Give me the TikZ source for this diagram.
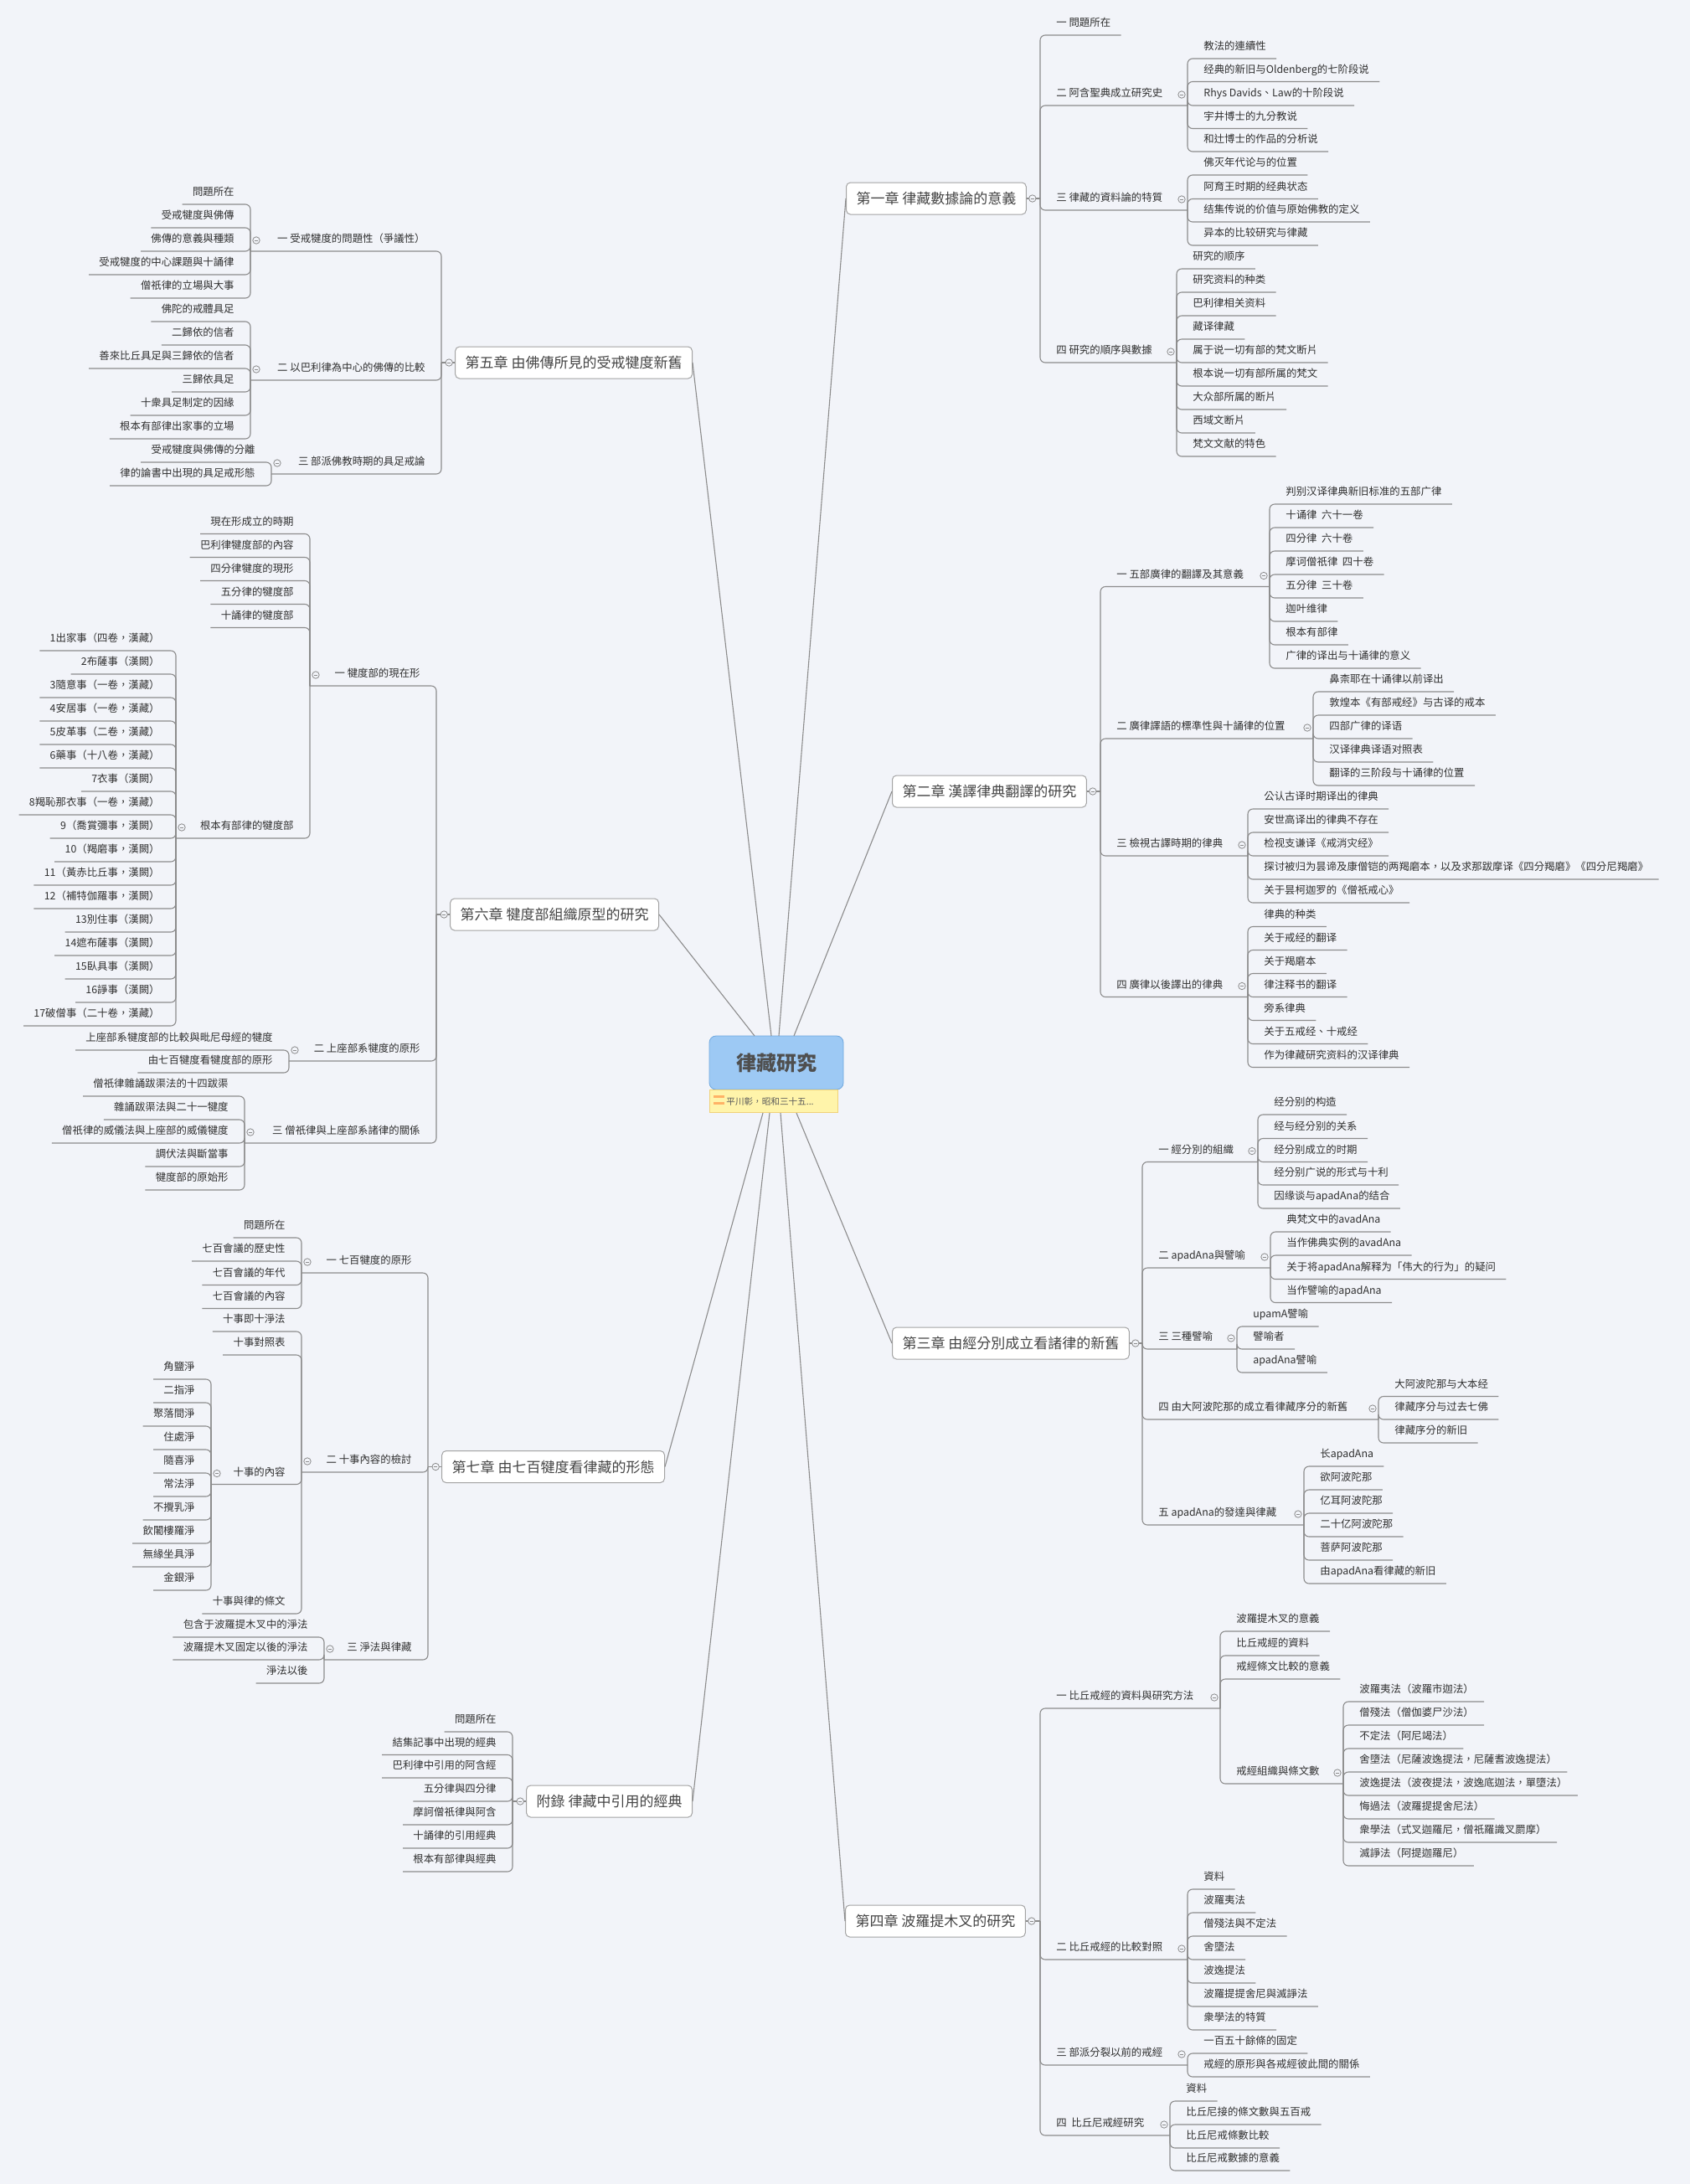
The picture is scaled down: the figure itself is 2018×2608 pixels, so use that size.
\documentclass[tikz,border=0pt]{standalone}
\usepackage{fontspec}
\setmainfont{Noto Sans CJK TC}
\usetikzlibrary{calc}
\definecolor{bg}{HTML}{F2F4F9}
\definecolor{ln}{HTML}{8C8C8C}
\definecolor{tx}{HTML}{303030}
\definecolor{rootfill}{HTML}{9DC9F4}
\definecolor{rootdraw}{HTML}{6EA7DE}
\definecolor{notefill}{HTML}{FFF4AA}
\definecolor{notedraw}{HTML}{F0D27A}
\tikzset{
  conn/.style={draw=ln,line width=0.55pt,rounded corners=3pt},
  leaf/.style={inner xsep=6pt,inner ysep=3pt,text height=0.8em,text depth=0.2em,font=\fontsize{6.2}{7}\selectfont,text=tx},
  chap/.style={draw=ln!80,fill=white,rounded corners=2.5pt,line width=0.5pt,minimum height=19pt,inner xsep=6pt,font=\fontsize{8.5}{10}\selectfont,text=tx!90},
  coll/.style={circle,draw=ln,fill=bg,minimum size=4.2pt,inner sep=0pt,line width=0.4pt,
    path picture={\draw[ln,line width=0.4pt]([xshift=1pt]path picture bounding box.west)--([xshift=-1pt]path picture bounding box.east);}}
}
\newcommand\rleaf[4]{\node[leaf,anchor=south west,xshift=3.5pt] (#1) at (#2 |- 0,#3) {#4};\draw[conn] (#2) |- (#1.south east);}
\newcommand\lleaf[4]{\node[leaf,anchor=south east,xshift=-3.5pt] (#1) at (#2 |- 0,#3) {#4};\draw[conn] (#2) |- (#1.south west);}
\newcommand\rbranch[5]{\node[leaf,anchor=south west,xshift=3.5pt] (#1) at (#2 |- 0,#3) {#5};\coordinate (#1j) at (#4,#3);\draw[conn] (#2) |- (#1j);\node[coll] at ($(#1j)+(-7,-13)$) {};}
\newcommand\lbranch[5]{\node[leaf,anchor=south east,xshift=-3.5pt] (#1) at (#2 |- 0,#3) {#5};\coordinate (#1j) at (#4,#3);\draw[conn] (#2) |- (#1j);\node[coll] at ($(#1j)+(7,-13)$) {};}
\begin{document}
\begin{tikzpicture}[x=0.5pt,y=-0.5pt]
\fill[bg] (0,0) rectangle (2018,2608);
\useasboundingbox (0,0) rectangle (2018,2608);

% root
\node[draw=rootdraw,fill=rootfill,rounded corners=4pt,minimum width=80pt,minimum height=32pt,font=\fontsize{12}{14}\selectfont\bfseries,text=tx!85] (root) at (927,1269) {律藏研究};
\node[draw=notedraw,fill=notefill,anchor=north west,minimum width=76.5pt,minimum height=13.5pt,inner sep=0pt] (note) at (847,1301) {};
\node[anchor=west,font=\fontsize{5.3}{6}\selectfont,text=tx!80,inner sep=0pt] (notetx) at (867,1315) {平川彰，昭和三十五...};
\fill[orange!60] (852,1308) rectangle (865,1311);
\fill[orange!60] (852,1316) rectangle (865,1319);

\coordinate (r6) at (901,1237);\coordinate (r5) at (921,1237);\coordinate (r1) at (930,1237);\coordinate (r2) at (948,1237);
\coordinate (r7) at (911,1329);\coordinate (ra) at (919,1329);\coordinate (r4) at (932,1329);\coordinate (r3) at (951,1329);

% chapter 1
\node[chap,anchor=west] (ch1) at (1010,237) {第一章 律藏數據論的意義};
\coordinate (ch1j) at (1242,237);
\draw[conn] (r1) -- (ch1.west);
\draw[conn] (ch1.east) -- (ch1j);\node[coll] at ($(ch1.east)+(7,0)$) {};
\rleaf{c1a}{ch1j}{42}{一 問題所在}
\rbranch{c1b}{ch1j}{126}{1418}{二 阿含聖典成立研究史}
\rleaf{c1b1}{c1bj}{70}{教法的連續性}
\rleaf{c1b2}{c1bj}{97.5}{经典的新旧与Oldenberg的七阶段说}
\rleaf{c1b3}{c1bj}{126}{Rhys Davids、Law的十阶段说}
\rleaf{c1b4}{c1bj}{153.5}{宇井博士的九分教说}
\rleaf{c1b5}{c1bj}{181}{和辻博士的作品的分析说}
\rbranch{c1c}{ch1j}{251}{1418}{三 律藏的資料論的特質}
\rleaf{c1c1}{c1cj}{209}{佛灭年代论与的位置}
\rleaf{c1c2}{c1cj}{237.5}{阿育王时期的经典状态}
\rleaf{c1c3}{c1cj}{265}{结集传说的价值与原始佛教的定义}
\rleaf{c1c4}{c1cj}{293}{异本的比较研究与律藏}
\rbranch{c1d}{ch1j}{433}{1405}{四 研究的順序與數據}
\rleaf{c1d1}{c1dj}{321}{研究的顺序}
\rleaf{c1d2}{c1dj}{349}{研究资料的种类}
\rleaf{c1d3}{c1dj}{377}{巴利律相关资料}
\rleaf{c1d4}{c1dj}{405}{藏译律藏}
\rleaf{c1d5}{c1dj}{433}{属于说一切有部的梵文断片}
\rleaf{c1d6}{c1dj}{461}{根本说一切有部所属的梵文}
\rleaf{c1d7}{c1dj}{489}{大众部所属的断片}
\rleaf{c1d8}{c1dj}{517}{西域文断片}
\rleaf{c1d9}{c1dj}{545}{梵文文献的特色}

% chapter 2
\node[chap,anchor=west] (ch2) at (1065,945) {第二章 漢譯律典翻譯的研究};
\coordinate (ch2j) at (1314,945);
\draw[conn] (r2) -- (ch2.west);
\draw[conn] (ch2.east) -- (ch2j);\node[coll] at ($(ch2.east)+(7,0)$) {};
\rbranch{c2a}{ch2j}{700.5}{1516}{一 五部廣律的翻譯及其意義}
\rleaf{c2a1}{c2aj}{602}{判别汉译律典新旧标准的五部广律}
\rleaf{c2a2}{c2aj}{630}{十诵律\ \ 六十一卷}
\rleaf{c2a3}{c2aj}{658}{四分律\ \ 六十卷}
\rleaf{c2a4}{c2aj}{686}{摩诃僧祇律\ \ 四十卷}
\rleaf{c2a5}{c2aj}{714}{五分律\ \ 三十卷}
\rleaf{c2a6}{c2aj}{742}{迦叶维律}
\rleaf{c2a7}{c2aj}{770}{根本有部律}
\rleaf{c2a8}{c2aj}{798}{广律的译出与十诵律的意义}
\rbranch{c2b}{ch2j}{882}{1568}{二 廣律譯語的標準性與十誦律的位置}
\rleaf{c2b1}{c2bj}{826}{鼻柰耶在十诵律以前译出}
\rleaf{c2b2}{c2bj}{854}{敦煌本《有部戒经》与古译的戒本}
\rleaf{c2b3}{c2bj}{882}{四部广律的译语}
\rleaf{c2b4}{c2bj}{910}{汉译律典译语对照表}
\rleaf{c2b5}{c2bj}{938}{翻译的三阶段与十诵律的位置}
\rbranch{c2c}{ch2j}{1022}{1490}{三 檢視古譯時期的律典}
\rleaf{c2c1}{c2cj}{966}{公认古译时期译出的律典}
\rleaf{c2c2}{c2cj}{994}{安世高译出的律典不存在}
\rleaf{c2c3}{c2cj}{1022}{检视支谦译《戒消灾经》}
\rleaf{c2c4}{c2cj}{1050}{探讨被归为昙谛及康僧铠的两羯磨本，以及求那跋摩译《四分羯磨》《四分尼羯磨》}
\rleaf{c2c5}{c2cj}{1078}{关于昙柯迦罗的《僧祇戒心》}
\rbranch{c2d}{ch2j}{1190.5}{1490}{四 廣律以後譯出的律典}
\rleaf{c2d1}{c2dj}{1106.5}{律典的种类}
\rleaf{c2d2}{c2dj}{1134.5}{关于戒经的翻译}
\rleaf{c2d3}{c2dj}{1162.5}{关于羯磨本}
\rleaf{c2d4}{c2dj}{1190.5}{律注释书的翻译}
\rleaf{c2d5}{c2dj}{1218.5}{旁系律典}
\rleaf{c2d6}{c2dj}{1246.5}{关于五戒经、十戒经}
\rleaf{c2d7}{c2dj}{1274.5}{作为律藏研究资料的汉译律典}

% chapter 3
\node[chap,anchor=west] (ch3) at (1065,1604) {第三章 由經分別成立看諸律的新舊};
\coordinate (ch3j) at (1364,1604);
\draw[conn] (r3) -- (ch3.west);
\draw[conn] (ch3.east) -- (ch3j);\node[coll] at ($(ch3.east)+(7,0)$) {};
\rbranch{c3a}{ch3j}{1387.5}{1502}{一 經分別的組織}
\rleaf{c3a1}{c3aj}{1331}{经分别的构造}
\rleaf{c3a2}{c3aj}{1359.5}{经与经分别的关系}
\rleaf{c3a3}{c3aj}{1387.5}{经分别成立的时期}
\rleaf{c3a4}{c3aj}{1415}{经分别广说的形式与十利}
\rleaf{c3a5}{c3aj}{1443}{因缘谈与apadAna的结合}
\rbranch{c3b}{ch3j}{1514}{1517}{二 apadAna與譬喻}
\rleaf{c3b1}{c3bj}{1471}{典梵文中的avadAna}
\rleaf{c3b2}{c3bj}{1499}{当作佛典实例的avadAna}
\rleaf{c3b3}{c3bj}{1527.5}{关于将apadAna解释为「伟大的行为」的疑问}
\rleaf{c3b4}{c3bj}{1555.5}{当作譬喻的apadAna}
\rbranch{c3c}{ch3j}{1611}{1477}{三 三種譬喻}
\rleaf{c3c1}{c3cj}{1584}{upamA譬喻}
\rleaf{c3c2}{c3cj}{1611}{譬喻者}
\rleaf{c3c3}{c3cj}{1639}{apadAna譬喻}
\rbranch{c3d}{ch3j}{1695}{1646}{四 由大阿波陀那的成立看律藏序分的新舊}
\rleaf{c3d1}{c3dj}{1667.5}{大阿波陀那与大本经}
\rleaf{c3d2}{c3dj}{1695}{律藏序分与过去七佛}
\rleaf{c3d3}{c3dj}{1723}{律藏序分的新旧}
\rbranch{c3e}{ch3j}{1821}{1557}{五 apadAna的發達與律藏}
\rleaf{c3e1}{c3ej}{1751}{长apadAna}
\rleaf{c3e2}{c3ej}{1779}{欲阿波陀那}
\rleaf{c3e3}{c3ej}{1807}{亿耳阿波陀那}
\rleaf{c3e4}{c3ej}{1835}{二十亿阿波陀那}
\rleaf{c3e5}{c3ej}{1863}{菩萨阿波陀那}
\rleaf{c3e6}{c3ej}{1891}{由apadAna看律藏的新旧}

% chapter 4
\node[chap,anchor=west] (ch4) at (1009,2294) {第四章 波羅提木叉的研究};
\coordinate (ch4j) at (1242,2294);
\draw[conn] (r4) -- (ch4.west);
\draw[conn] (ch4.east) -- (ch4j);\node[coll] at ($(ch4.east)+(7,0)$) {};
\rbranch{c4a}{ch4j}{2040}{1457}{一 比丘戒經的資料與研究方法}
\rleaf{c4a1}{c4aj}{1948}{波羅提木叉的意義}
\rleaf{c4a2}{c4aj}{1977}{比丘戒經的資料}
\rleaf{c4a3}{c4aj}{2005}{戒經條文比較的意義}
\rbranch{c4a4}{c4aj}{2130}{1604}{戒經組織與條文數}
\rleaf{c4a41}{c4a4j}{2032}{波羅夷法（波羅市迦法）}
\rleaf{c4a42}{c4a4j}{2060}{僧殘法（僧伽婆尸沙法）}
\rleaf{c4a43}{c4a4j}{2088}{不定法（阿尼竭法）}
\rleaf{c4a44}{c4a4j}{2116}{舍墮法（尼薩波逸提法，尼薩耆波逸提法）}
\rleaf{c4a45}{c4a4j}{2144}{波逸提法（波夜提法，波逸底迦法，單墮法）}
\rleaf{c4a46}{c4a4j}{2172}{悔過法（波羅提提舍尼法）}
\rleaf{c4a47}{c4a4j}{2200}{衆學法（式叉迦羅尼，僧祇羅識叉罽摩）}
\rleaf{c4a48}{c4a4j}{2228}{滅諍法（阿提迦羅尼）}
\rbranch{c4b}{ch4j}{2340}{1418}{二 比丘戒經的比較對照}
\rleaf{c4b1}{c4bj}{2256}{資料}
\rleaf{c4b2}{c4bj}{2284}{波羅夷法}
\rleaf{c4b3}{c4bj}{2312}{僧殘法與不定法}
\rleaf{c4b4}{c4bj}{2340}{舍墮法}
\rleaf{c4b5}{c4bj}{2368}{波逸提法}
\rleaf{c4b6}{c4bj}{2396}{波羅提提舍尼與滅諍法}
\rleaf{c4b7}{c4bj}{2424}{衆學法的特質}
\rbranch{c4c}{ch4j}{2466}{1418}{三 部派分裂以前的戒經}
\rleaf{c4c1}{c4cj}{2452}{一百五十餘條的固定}
\rleaf{c4c2}{c4cj}{2480}{戒經的原形與各戒經彼此間的關係}
\rbranch{c4d}{ch4j}{2550}{1397}{四\ \ 比丘尼戒經研究}
\rleaf{c4d1}{c4dj}{2509}{資料}
\rleaf{c4d2}{c4dj}{2537}{比丘尼接的條文數與五百戒}
\rleaf{c4d3}{c4dj}{2565}{比丘尼戒條數比較}
\rleaf{c4d4}{c4dj}{2592}{比丘尼戒數據的意義}

% chapter 5
\node[chap,anchor=east] (ch5) at (827,433) {第五章 由佛傳所見的受戒犍度新舊};
\coordinate (ch5j) at (527,433);
\draw[conn] (r5) -- (ch5.east);
\draw[conn] (ch5.west) -- (ch5j);\node[coll] at ($(ch5.west)+(-7,0)$) {};
\lbranch{c5a}{ch5j}{300}{299}{一 受戒犍度的問題性（爭議性）}
\lleaf{c5a1}{c5aj}{244}{問題所在}
\lleaf{c5a2}{c5aj}{272}{受戒犍度與佛傳}
\lleaf{c5a3}{c5aj}{300}{佛傳的意義與種類}
\lleaf{c5a4}{c5aj}{328}{受戒犍度的中心課題與十誦律}
\lleaf{c5a5}{c5aj}{356}{僧祇律的立場與大事}
\lbranch{c5b}{ch5j}{454}{299}{二 以巴利律為中心的佛傳的比較}
\lleaf{c5b1}{c5bj}{384}{佛陀的戒體具足}
\lleaf{c5b2}{c5bj}{412}{二歸依的信者}
\lleaf{c5b3}{c5bj}{440}{善來比丘具足與三歸依的信者}
\lleaf{c5b4}{c5bj}{468}{三歸依具足}
\lleaf{c5b5}{c5bj}{496}{十衆具足制定的因緣}
\lleaf{c5b6}{c5bj}{524}{根本有部律出家事的立場}
\lbranch{c5c}{ch5j}{566}{324}{三 部派佛教時期的具足戒論}
\lleaf{c5c1}{c5cj}{552}{受戒犍度與佛傳的分離}
\lleaf{c5c2}{c5cj}{580}{律的論書中出現的具足戒形態}

% chapter 6
\node[chap,anchor=east] (ch6) at (787,1092) {第六章 犍度部組織原型的研究};
\coordinate (ch6j) at (521,1092);
\draw[conn] (r6) -- (ch6.east);
\draw[conn] (ch6.west) -- (ch6j);\node[coll] at ($(ch6.west)+(-7,0)$) {};
\lbranch{c6a}{ch6j}{819}{370}{一 犍度部的現在形}
\lleaf{c6a1}{c6aj}{637.5}{現在形成立的時期}
\lleaf{c6a2}{c6aj}{665.5}{巴利律犍度部的內容}
\lleaf{c6a3}{c6aj}{693.5}{四分律犍度的現形}
\lleaf{c6a4}{c6aj}{721.5}{五分律的犍度部}
\lleaf{c6a5}{c6aj}{749.5}{十誦律的犍度部}
\lbranch{c6b}{c6aj}{1001}{210}{根本有部律的犍度部}
\lleaf{c6b1}{c6bj}{777}{1出家事（四卷，漢藏）}
\lleaf{c6b2}{c6bj}{805}{2布薩事（漢闕）}
\lleaf{c6b3}{c6bj}{833}{3隨意事（一卷，漢藏）}
\lleaf{c6b4}{c6bj}{861}{4安居事（一卷，漢藏）}
\lleaf{c6b5}{c6bj}{889}{5皮革事（二卷，漢藏）}
\lleaf{c6b6}{c6bj}{917}{6藥事（十八卷，漢藏）}
\lleaf{c6b7}{c6bj}{945}{7衣事（漢闕）}
\lleaf{c6b8}{c6bj}{973}{8羯恥那衣事（一卷，漢藏）}
\lleaf{c6b9}{c6bj}{1001}{9（喬賞彌事，漢闕）}
\lleaf{c6b10}{c6bj}{1029}{10（羯磨事，漢闕）}
\lleaf{c6b11}{c6bj}{1057}{11（黃赤比丘事，漢闕）}
\lleaf{c6b12}{c6bj}{1085}{12（補特伽羅事，漢闕）}
\lleaf{c6b13}{c6bj}{1113}{13別住事（漢闕）}
\lleaf{c6b14}{c6bj}{1141}{14遮布薩事（漢闕）}
\lleaf{c6b15}{c6bj}{1169}{15臥具事（漢闕）}
\lleaf{c6b16}{c6bj}{1197}{16諍事（漢闕）}
\lleaf{c6b17}{c6bj}{1225}{17破僧事（二十卷，漢藏）}
\lbranch{c6c}{ch6j}{1267}{345}{二 上座部系犍度的原形}
\lleaf{c6c1}{c6cj}{1254}{上座部系犍度部的比較與毗尼母經的犍度}
\lleaf{c6c2}{c6cj}{1281}{由七百犍度看犍度部的原形}
\lbranch{c6d}{ch6j}{1365}{292}{三 僧祇律與上座部系諸律的關係}
\lleaf{c6d1}{c6dj}{1309}{僧祇律雜誦跋渠法的十四跋渠}
\lleaf{c6d2}{c6dj}{1337}{雜誦跋渠法與二十一犍度}
\lleaf{c6d3}{c6dj}{1365}{僧祇律的威儀法與上座部的威儀犍度}
\lleaf{c6d4}{c6dj}{1393}{調伏法與斷當事}
\lleaf{c6d5}{c6dj}{1421}{犍度部的原始形}

% chapter 7
\node[chap,anchor=east] (ch7) at (794,1751.5) {第七章 由七百犍度看律藏的形態};
\coordinate (ch7j) at (511,1751.5);
\draw[conn] (r7) -- (ch7.east);
\draw[conn] (ch7.west) -- (ch7j);\node[coll] at ($(ch7.west)+(-7,0)$) {};
\lbranch{c7a}{ch7j}{1520}{360}{一 七百犍度的原形}
\lleaf{c7a1}{c7aj}{1478}{問題所在}
\lleaf{c7a2}{c7aj}{1506}{七百會議的歷史性}
\lleaf{c7a3}{c7aj}{1534.5}{七百會議的年代}
\lleaf{c7a4}{c7aj}{1562.5}{七百會議的內容}
\lbranch{c7b}{ch7j}{1758}{360}{二 十事內容的檢討}
\lleaf{c7b1}{c7bj}{1590}{十事即十淨法}
\lleaf{c7b2}{c7bj}{1618}{十事對照表}
\lbranch{c7b3}{c7bj}{1772.5}{252}{十事的內容}
\lleaf{c7b31}{c7b3j}{1647}{角鹽淨}
\lleaf{c7b32}{c7b3j}{1675}{二指淨}
\lleaf{c7b33}{c7b3j}{1703}{聚落間淨}
\lleaf{c7b34}{c7b3j}{1731}{住處淨}
\lleaf{c7b35}{c7b3j}{1759}{隨喜淨}
\lleaf{c7b36}{c7b3j}{1787}{常法淨}
\lleaf{c7b37}{c7b3j}{1815}{不攪乳淨}
\lleaf{c7b38}{c7b3j}{1843}{飲闍樓羅淨}
\lleaf{c7b39}{c7b3j}{1871}{無緣坐具淨}
\lleaf{c7b310}{c7b3j}{1899}{金銀淨}
\lleaf{c7b4}{c7bj}{1927}{十事與律的條文}
\lbranch{c7c}{ch7j}{1982}{387}{三 淨法與律藏}
\lleaf{c7c1}{c7cj}{1955}{包含于波羅提木叉中的淨法}
\lleaf{c7c2}{c7cj}{1982}{波羅提木叉固定以後的淨法}
\lleaf{c7c3}{c7cj}{2010}{淨法以後}

% appendix
\node[chap,anchor=east] (app) at (827,2151) {附錄 律藏中引用的經典};
\coordinate (appj) at (612,2151);
\draw[conn] (ra) -- (app.east);
\draw[conn] (app.west) -- (appj);\node[coll] at ($(app.west)+(-7,0)$) {};
\lleaf{ap1}{appj}{2068}{問題所在}
\lleaf{ap2}{appj}{2095.5}{結集記事中出現的經典}
\lleaf{ap3}{appj}{2123}{巴利律中引用的阿含經}
\lleaf{ap4}{appj}{2151}{五分律與四分律}
\lleaf{ap5}{appj}{2179}{摩訶僧祇律與阿含}
\lleaf{ap6}{appj}{2207}{十誦律的引用經典}
\lleaf{ap7}{appj}{2235}{根本有部律與經典}
\end{tikzpicture}
\end{document}
